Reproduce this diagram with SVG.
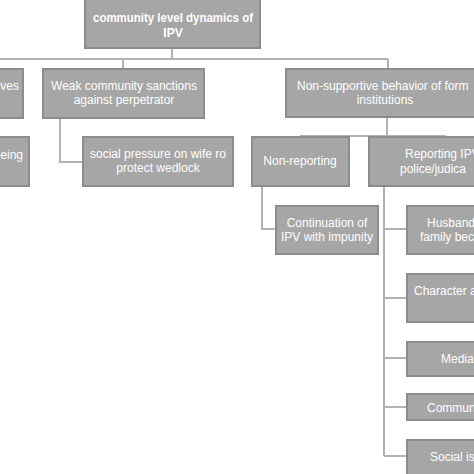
<svg xmlns="http://www.w3.org/2000/svg" width="474" height="474" viewBox="0 0 474 474">
<style>
.box{fill:#a6a6a6;stroke:#8c8c8c;stroke-width:2}
.t{font-family:"Liberation Sans",Arial,sans-serif;font-size:12px;fill:#ffffff}
.b{font-weight:bold;font-size:12px}
.c{text-anchor:middle}
.e{text-anchor:end}
.ln{fill:none;stroke:#b3b3b3;stroke-width:2}
</style>
<rect width="474" height="474" fill="#ffffff"/>
<g id="connectors">
<path class="ln" d="M172 48V59M0 59H388M123 59V69M388 59V69"/>
<path class="ln" d="M60 118V162H83"/>
<path class="ln" d="M387 117V136M300 136H446M300 136V137M446 136V137"/>
<path class="ln" d="M262 186V229H276"/>
<path class="ln" d="M384 186V456M384 229H407M384 298H407M384 358H407M384 407H407M384 456H407"/>
</g>
<g id="root">
<rect class="box" x="85" y="-2" width="175" height="50"/>
<text class="t b c" x="173" y="22" textLength="160" lengthAdjust="spacingAndGlyphs">community level dynamics of</text>
<text class="t b c" x="173" y="37">IPV</text>
</g>
<g id="left1">
<rect class="box" x="-10" y="69" width="33" height="49"/>
<text class="t e" x="19" y="90">ives</text>
</g>
<g id="left2">
<rect class="box" x="-10" y="137" width="39" height="49"/>
<text class="t e" x="23" y="159">eing</text>
</g>
<g id="weak">
<rect class="box" x="43" y="69" width="161" height="49"/>
<text class="t c" x="124" y="90">Weak community sanctions</text>
<text class="t c" x="124" y="104">against perpetrator</text>
</g>
<g id="social-pressure">
<rect class="box" x="83" y="137" width="150" height="49"/>
<text class="t c" x="158" y="158">social pressure on wife ro</text>
<text class="t c" x="158" y="172">protect wedlock</text>
</g>
<g id="nonsupportive">
<rect class="box" x="286" y="69" width="200" height="48"/>
<text class="t" x="297" y="90">Non-supportive behavior of form</text>
<text class="t c" x="385" y="104">institutions</text>
</g>
<g id="nonreporting">
<rect class="box" x="252" y="137" width="97" height="49"/>
<text class="t c" x="300" y="165">Non-reporting</text>
</g>
<g id="reporting">
<rect class="box" x="369" y="137" width="115" height="49"/>
<text class="t" x="405" y="158">Reporting IPV</text>
<text class="t" x="400" y="173">police/judica</text>
</g>
<g id="continuation">
<rect class="box" x="276" y="206" width="102" height="48"/>
<text class="t c" x="327" y="227">Continuation of</text>
<text class="t c" x="327" y="241">IPV with impunity</text>
</g>
<g id="husband">
<rect class="box" x="407" y="206" width="77" height="48"/>
<text class="t" x="427" y="227">Husband</text>
<text class="t" x="420" y="241">family bec</text>
</g>
<g id="character">
<rect class="box" x="407" y="274" width="77" height="48"/>
<text class="t" x="414" y="295">Character a</text>
</g>
<g id="media">
<rect class="box" x="407" y="342" width="77" height="34"/>
<text class="t" x="441" y="363">Media</text>
</g>
<g id="community">
<rect class="box" x="407" y="394" width="77" height="26"/>
<text class="t" x="427" y="412">Commun</text>
</g>
<g id="social-isolation">
<rect class="box" x="407" y="440" width="77" height="40"/>
<text class="t" x="430" y="461">Social is</text>
</g>
</svg>
